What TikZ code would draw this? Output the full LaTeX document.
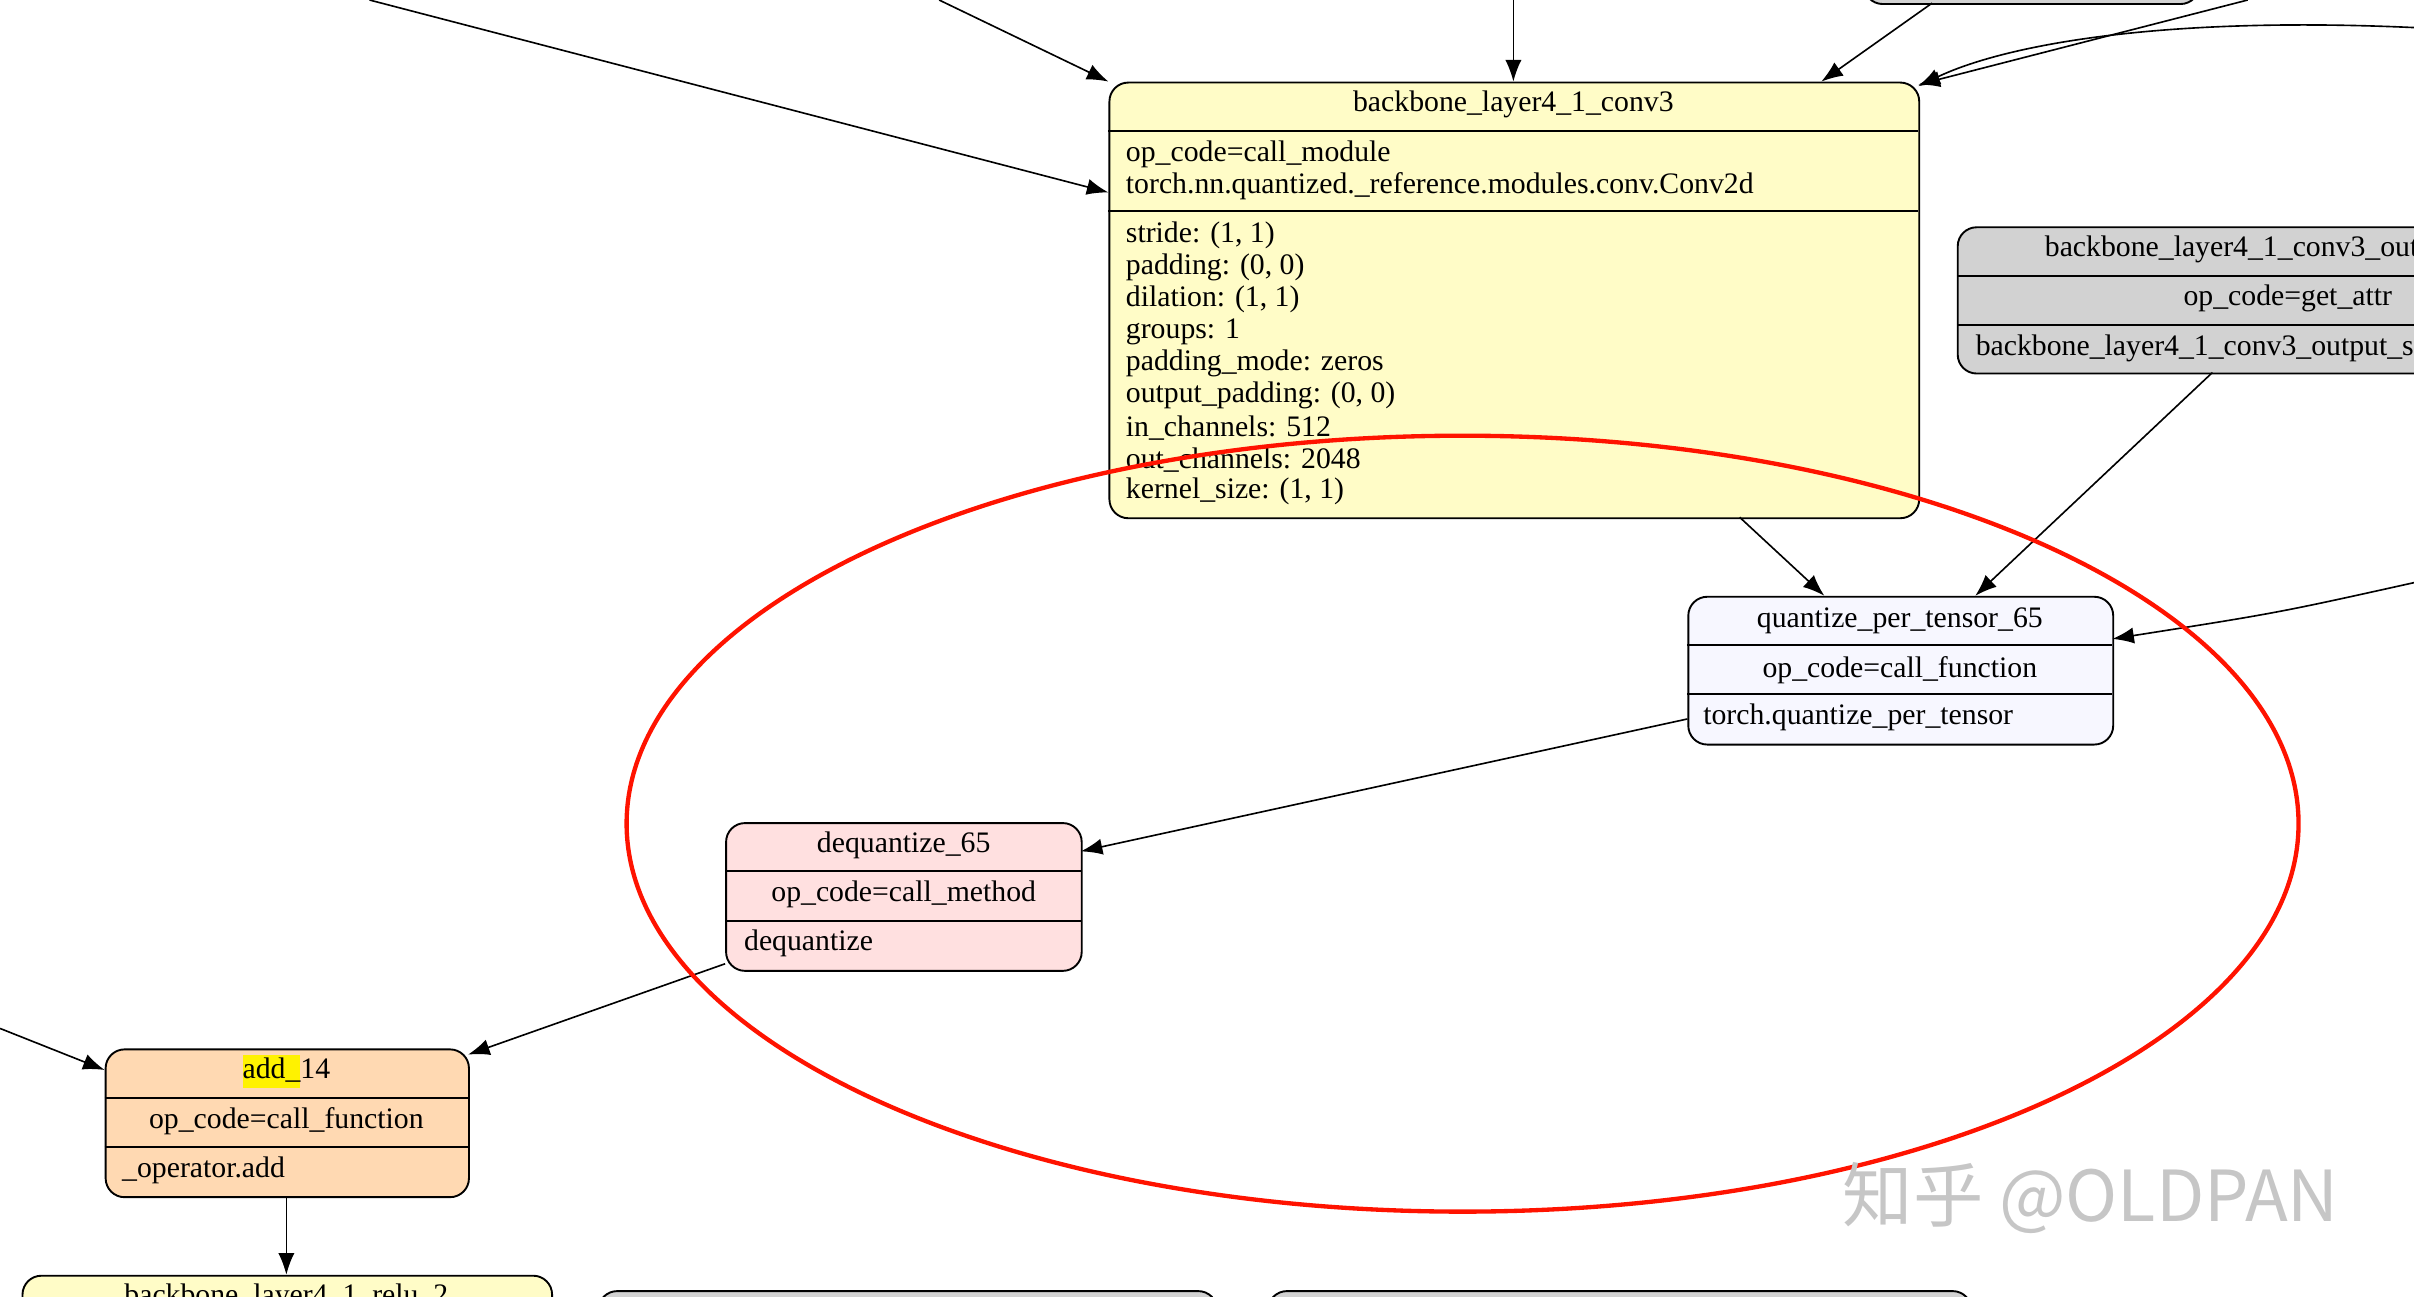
\documentclass[tikz,border=0pt]{standalone}
\usepackage{fontspec}
\setmainfont{Liberation Serif}
\newfontfamily\cjkfont{Noto Sans CJK SC}
\usetikzlibrary{positioning,arrows.meta}

\tikzstyle{box} = [draw,rounded corners=7pt,anchor=north west,inner sep=0pt,line width=0.7pt]
\tikzstyle{sep} = [line width=0.7pt]
\tikzstyle{txt} = [inner sep=0pt,font=\fontsize{11}{12}\selectfont]
\tikzstyle{ltxt} = [txt,anchor=west]
\tikzstyle{edge} = [-{Latex[length=8pt,width=6pt]},line width=0.6pt]

\begin{document}
\begin{tikzpicture}[x=0.02cm,y=-0.02cm]
  \useasboundingbox (0,0) rectangle (1568,842);
  \begin{scope}
  \clip (0,0) rectangle (1568,842);
  % boxes
  \node[box,fill=yellow!22,minimum width=526*0.02cm,minimum height=283*0.02cm] at (720,53) (conv) {};
  \node[box,fill=gray!35,minimum width=430*0.02cm,minimum height=95*0.02cm] at (1271,147) (scale) {};
  \node[box,fill=blue!3,minimum width=276*0.02cm,minimum height=96*0.02cm] at (1096,387) (quant) {};
  \node[box,fill=red!12,minimum width=231*0.02cm,minimum height=96*0.02cm] at (471,534) (deq) {};
  \node[box,fill=orange!30,minimum width=236*0.02cm,minimum height=96*0.02cm] at (68,681) (add) {};
  \node[box,fill=yellow!22,minimum width=344*0.02cm,minimum height=40*0.02cm] at (14,828) (relu) {};
  \node[box,fill=gray!35,minimum width=402*0.02cm,minimum height=40*0.02cm] at (388,838) (low1) {};
  \node[box,fill=gray!35,minimum width=457*0.02cm,minimum height=40*0.02cm] at (823,838) (low2) {};
  \node[box,fill=gray!35,minimum width=218*0.02cm,minimum height=40*0.02cm] at (1210,-38) (top) {};

  % separators
  \draw[sep] (720,85) -- (1246,85) (720,137) -- (1246,137);
  \draw[sep] (1271,179) -- (1700,179) (1271,211) -- (1700,211);
  \draw[sep] (1096,419) -- (1372,419) (1096,451) -- (1372,451);
  \draw[sep] (471,566) -- (702,566) (471,598) -- (702,598);
  \draw[sep] (68,713) -- (304,713) (68,745) -- (304,745);

  % texts
  \node[txt] at (983,68) (convT) {backbone\_layer4\_1\_conv3};
  \node[ltxt] at (731,100) {op\_code=call\_module};
  \node[ltxt] at (731,121) {torch.nn.quantized.\_reference.modules.conv.Conv2d};
  \foreach \t [count=\i from 0] in {{stride: (1, 1)},{padding: (0, 0)},{dilation: (1, 1)},{groups: 1},
      {padding\_mode: zeros},{output\_padding: (0, 0)},{in\_channels: 512},{out\_channels: 2048},{kernel\_size: (1, 1)}}
    \node[ltxt] at (731,153+20.8*\i) {\t};
  \node[txt] at (1486,162) {backbone\_layer4\_1\_conv3\_output\_scale};
  \node[txt] at (1486,194) {op\_code=get\_attr};
  \node[ltxt] at (1283,226) {backbone\_layer4\_1\_conv3\_output\_scale};
  \node[txt] at (1234,403) {quantize\_per\_tensor\_65};
  \node[txt] at (1234,435) {op\_code=call\_function};
  \node[ltxt] at (1106,466) {torch.quantize\_per\_tensor};
  \node[txt] at (186,696) {{\fboxsep=0pt\colorbox{yellow}{\strut add\_}}14};
  \node[txt] at (587,549) {dequantize\_65};
  \node[txt] at (587,581) {op\_code=call\_method};
  \node[ltxt] at (483,613) {dequantize};
  \node[txt] at (186,728) {op\_code=call\_function};
  \node[ltxt] at (79,760) {\_operator.add};
  \node[txt] at (186,843) {backbone\_layer4\_1\_relu\_2};

  % free ends
  \coordinate (in1) at (240,0);
  \coordinate (in2) at (610,0);
  \coordinate (in3) at (983,-5);
  \coordinate (in4) at (1255,2);
  \coordinate (in5) at (1460,0);
  \coordinate (in6) at (1570,18);
  \coordinate (in7) at (1570,378);
  \coordinate (in8) at (0,668);

  % connectors
  \draw[edge] (in1) -- (720,125);
  \draw[edge] (in2) -- (720,53);
  \draw[edge] (in3) -- (983,53);
  \draw[edge] (in4) -- (1183,53);
  \draw[edge] (in5) -- (1246,55);
  \draw[edge] (in6) .. controls (1400,10) and (1300,30) .. (1246,56);
  \draw[edge] (1130,336) -- (1185,387);
  \draw[edge] (1437,242) -- (1283,387);
  \draw[edge] (in7) .. controls (1480,398) .. (1372,415);
  \draw[edge] (1096,467) -- (702,553);
  \draw[edge] (471,626) -- (304,685);
  \draw[edge] (in8) -- (68,695);
  \draw[edge] (186,777) -- (186,828);

  % highlight
  \draw[red!85!orange,line width=1.6pt] (950,535) ellipse [x radius=543,y radius=252];
  \node[text=gray!45,font=\cjkfont\fontsize{26}{26}\selectfont] at (1358,778) (mark) {知乎 @OLDPAN};
  \end{scope}
\end{tikzpicture}
\end{document}
